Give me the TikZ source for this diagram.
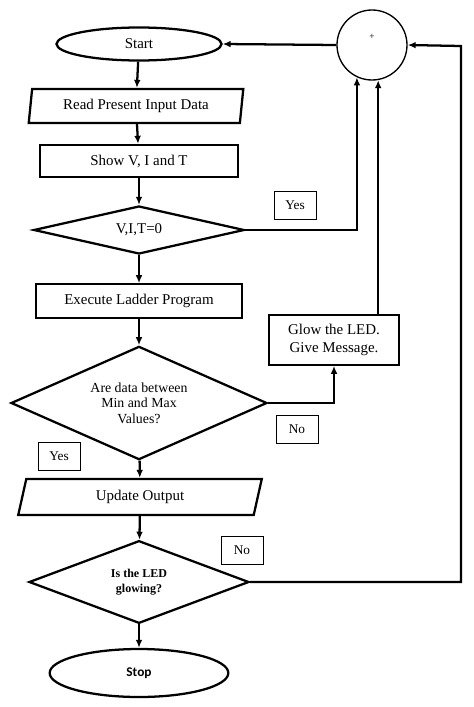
\documentclass[tikz,border=0pt]{standalone}
\usepackage{fontspec}
\setmainfont{Liberation Serif}
\newfontfamily\stopfont{Carlito}
\usetikzlibrary{shapes.geometric,arrows.meta,calc,positioning}

\begin{document}
\begin{tikzpicture}[
    x=0.75pt, y=-0.75pt,
    terminal/.style={ellipse, draw, line width=1.7pt, inner sep=0pt, font=\fontsize{11.2}{13}\selectfont},
    io/.style={trapezium, trapezium stretches=true, draw, line width=1.7pt, inner sep=0pt, font=\fontsize{11.2}{13}\selectfont},
    process/.style={rectangle, draw, line width=1.7pt, inner sep=0pt, align=center, font=\fontsize{11.2}{13}\selectfont},
    decision/.style={diamond, draw, line width=1.7pt, inner sep=0pt, align=center},
    junction/.style={circle, draw, line width=1pt, inner sep=0pt, minimum size=52.5pt},
    note/.style={rectangle, draw, line width=0.5pt, minimum width=31.5pt, minimum height=21pt, inner sep=0pt, font=\fontsize{10}{12}\selectfont},
    flow/.style={line width=1.7pt, -{Latex[length=6pt,width=5pt]}}
]
\useasboundingbox (0,0) rectangle (474,707);

% Main column
\node[terminal, minimum width=123.75pt, minimum height=24.75pt] (start) at (139,44) {Start};
\node[io, trapezium left angle=80, trapezium right angle=100, minimum width=161pt, minimum height=25.5pt] (read) at (136,106) {Read Present Input Data};
\node[process, minimum width=148pt, minimum height=24pt] (show) at (139,161) {Show V, I and T};
\node[decision, aspect=4, minimum width=158pt, minimum height=36pt, font=\fontsize{11.2}{13}\selectfont] (vit) at (139,230) {V,I,T=0};
\node[process, minimum width=155pt, minimum height=25pt] (exec) at (139,301) {Execute Ladder Program};
\node[decision, aspect=2.26, minimum width=192pt, minimum height=85pt, font=\fontsize{10.4}{11.5}\selectfont] (range) at (139,403) {Are data between\\Min and Max\\Values?};
\node[io, trapezium left angle=77, trapezium right angle=103, minimum width=184pt, minimum height=27pt] (update) at (140,497) {Update Output};
\node[decision, aspect=2.65, minimum width=165pt, minimum height=62pt, font=\fontsize{9}{11}\selectfont\bfseries] (led) at (139,582) {Is the LED\\glowing?};
\node[terminal, minimum width=134pt, minimum height=36pt, font=\stopfont\fontsize{10}{12}\selectfont\bfseries] (stop) at (139,673) {Stop};

% Side column
\node[junction] (sum) at (372,45) {};
\node[font=\scriptsize] (plus) at (372,37) {+};
\node[process, minimum width=97.5pt, minimum height=37pt] (glow) at (334,340) {Glow the LED.\\Give Message.};
\coordinate (corner) at (461,46);

% Labels
\node[note] (yes1) at (295,205) {Yes};
\node[note] (no1) at (297,429) {No};
\node[note] (yes2) at (59,456) {Yes};
\node[note] (no2) at (242,550) {No};

% Connectors
\draw[flow] (start) -- (read);
\draw[flow] (read) -- (show);
\draw[flow] (show) -- (vit);
\draw[flow] (vit) -- (exec);
\draw[flow] (exec) -- (range);
\draw[flow] (range) -- (update);
\draw[flow] (update) -- (led);
\draw[flow] (led) -- (stop);

\draw[flow] (vit.east) -| (sum.-115);
\draw[flow] (range.east) -| (glow.south);
\draw[flow] (glow.north -| sum.-80) -- (sum.-80);
\draw[flow] (led.east) -| (corner) -- (sum.east);
\draw[flow] (sum.west) -- (start.east);

\end{tikzpicture}
\end{document}
